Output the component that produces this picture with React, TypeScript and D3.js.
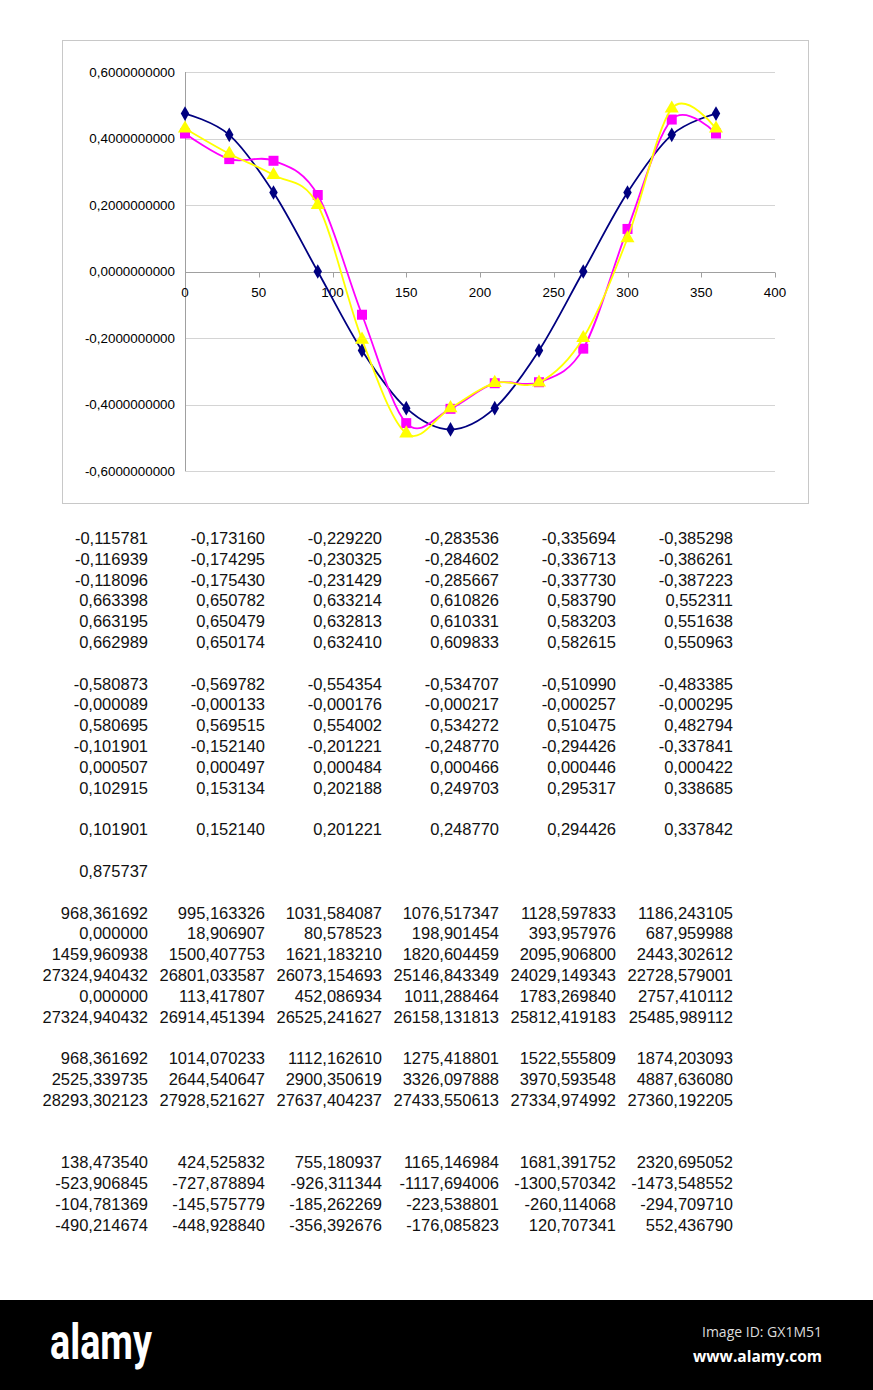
import * as d3 from "d3";
import React, { useEffect, useRef } from "react";

const angles = [0, 30, 60, 90, 120, 150, 180, 210, 240, 270, 300, 330, 360];
const navy = [0.475, 0.411, 0.2375, 0, -0.2375, -0.411, -0.475, -0.411, -0.2375, 0, 0.2375, 0.411, 0.475];
const magenta = [0.415, 0.338, 0.333, 0.23, -0.13, -0.456, -0.413, -0.336, -0.333, -0.232, 0.128, 0.457, 0.415];
const yellow = [0.43, 0.354, 0.29, 0.2, -0.205, -0.487, -0.411, -0.335, -0.334, -0.2, 0.1, 0.49, 0.43];
const yTicks = [-0.6, -0.4, -0.2, 0, 0.2, 0.4, 0.6];
const xTicks = [0, 50, 100, 150, 200, 250, 300, 350, 400];

// table under the chart, blocks of rows with their starting row number
const block1 = [
  [-0.115781, -0.17316, -0.22922, -0.283536, -0.335694, -0.385298],
  [-0.116939, -0.174295, -0.230325, -0.284602, -0.336713, -0.386261],
  [-0.118096, -0.17543, -0.231429, -0.285667, -0.33773, -0.387223],
  [0.663398, 0.650782, 0.633214, 0.610826, 0.58379, 0.552311],
  [0.663195, 0.650479, 0.632813, 0.610331, 0.583203, 0.551638],
  [0.662989, 0.650174, 0.63241, 0.609833, 0.582615, 0.550963],
];
const block2 = [
  [-0.580873, -0.569782, -0.554354, -0.534707, -0.51099, -0.483385],
  [-0.000089, -0.000133, -0.000176, -0.000217, -0.000257, -0.000295],
  [0.580695, 0.569515, 0.554002, 0.534272, 0.510475, 0.482794],
  [-0.101901, -0.15214, -0.201221, -0.24877, -0.294426, -0.337841],
  [0.000507, 0.000497, 0.000484, 0.000466, 0.000446, 0.000422],
  [0.102915, 0.153134, 0.202188, 0.249703, 0.295317, 0.338685],
];
const block3 = [[0.101901, 0.15214, 0.201221, 0.24877, 0.294426, 0.337842]];
const block4 = [[0.875737]];
const block5 = [
  [968.361692, 995.163326, 1031.584087, 1076.517347, 1128.597833, 1186.243105],
  [0, 18.906907, 80.578523, 198.901454, 393.957976, 687.959988],
  [1459.960938, 1500.407753, 1621.18321, 1820.604459, 2095.9068, 2443.302612],
  [27324.940432, 26801.033587, 26073.154693, 25146.843349, 24029.149343, 22728.579001],
  [0, 113.417807, 452.086934, 1011.288464, 1783.26984, 2757.410112],
  [27324.940432, 26914.451394, 26525.241627, 26158.131813, 25812.419183, 25485.989112],
];
const block6 = [
  [968.361692, 1014.070233, 1112.16261, 1275.418801, 1522.555809, 1874.203093],
  [2525.339735, 2644.540647, 2900.350619, 3326.097888, 3970.593548, 4887.63608],
  [28293.302123, 27928.521627, 27637.404237, 27433.550613, 27334.974992, 27360.192205],
];
const block7 = [
  [138.47354, 424.525832, 755.180937, 1165.146984, 1681.391752, 2320.695052],
  [-523.906845, -727.878894, -926.311344, -1117.694006, -1300.570342, -1473.548552],
  [-104.781369, -145.575779, -185.262269, -223.538801, -260.114068, -294.70971],
  [-490.214674, -448.92884, -356.392676, -176.085823, 120.707341, 552.43679],
];
const blocks: [number, number[][]][] = [
  [0, block1],
  [7, block2],
  [14, block3],
  [16, block4],
  [18, block5],
  [25, block6],
  [30, block7],
];

const W = 873;
const H = 1390;

const App = () => {
  const ref = useRef<SVGSVGElement>(null);

  useEffect(() => {
    document.body.style.margin = "0";
    const svg = d3.select(ref.current);
    svg.selectAll("*").remove();

    const x = d3.scaleLinear().domain([0, 400]).range([185, 775]);
    const y = d3.scaleLinear().domain([-0.6, 0.6]).range([471, 72]);

    svg.append("rect").attr("width", W).attr("height", H).attr("fill", "#fff");

    // chart frame
    svg
      .append("rect")
      .attr("x", 62.5)
      .attr("y", 40.5)
      .attr("width", 746)
      .attr("height", 463)
      .attr("fill", "#fff")
      .attr("stroke", "#c8c8c8");

    const g = svg.append("g");

    g.selectAll("line.grid")
      .data(yTicks)
      .enter()
      .append("line")
      .attr("x1", x(0))
      .attr("x2", x(400))
      .attr("y1", (d) => Math.round(y(d)) + 0.5)
      .attr("y2", (d) => Math.round(y(d)) + 0.5)
      .attr("stroke", "#d4d4d4");

    g.selectAll("text.ylab")
      .data(yTicks)
      .enter()
      .append("text")
      .attr("x", 175)
      .attr("y", (d) => y(d))
      .attr("dy", "0.36em")
      .attr("text-anchor", "end")
      .attr("font-family", "Liberation Sans, Arial, sans-serif")
      .attr("font-size", 13.4)
      .attr("fill", "#000")
      .text((d) => d.toFixed(10).replace(".", ","));

    // y axis
    g.append("line")
      .attr("x1", x(0) + 0.5)
      .attr("x2", x(0) + 0.5)
      .attr("y1", y(0.6))
      .attr("y2", y(-0.6))
      .attr("stroke", "#a0a0a0");

    // x axis at zero
    const y0 = Math.round(y(0)) + 0.5;
    g.append("line")
      .attr("x1", x(0))
      .attr("x2", x(400))
      .attr("y1", y0)
      .attr("y2", y0)
      .attr("stroke", "#a0a0a0");
    g.selectAll("line.xtick")
      .data(xTicks)
      .enter()
      .append("line")
      .attr("x1", (d) => Math.round(x(d)) + 0.5)
      .attr("x2", (d) => Math.round(x(d)) + 0.5)
      .attr("y1", y0)
      .attr("y2", y0 + 5)
      .attr("stroke", "#a0a0a0");
    g.selectAll("text.xlab")
      .data(xTicks)
      .enter()
      .append("text")
      .attr("x", (d) => x(d))
      .attr("y", y0 + 24)
      .attr("text-anchor", "middle")
      .attr("font-family", "Liberation Sans, Arial, sans-serif")
      .attr("font-size", 13.4)
      .attr("fill", "#000")
      .text((d) => String(d));

    const line = d3
      .line<number>()
      .x((d, i) => x(angles[i]))
      .y((d) => y(d))
      .curve(d3.curveCatmullRom.alpha(0));

    const series: { values: number[]; color: string; shape: d3.SymbolType; size: number }[] = [
      { values: navy, color: "#000080", shape: d3.symbolDiamond, size: 62 },
      { values: magenta, color: "#ff00ff", shape: d3.symbolSquare, size: 100 },
      { values: yellow, color: "#ffff00", shape: d3.symbolTriangle, size: 85 },
    ];

    series.forEach((s) => {
      g.append("path")
        .datum(s.values)
        .attr("fill", "none")
        .attr("stroke", s.color)
        .attr("stroke-width", 1.8)
        .attr("d", line);
      g.selectAll(null)
        .data(s.values)
        .enter()
        .append("path")
        .attr("transform", (d, i) => `translate(${x(angles[i])},${y(d)})`)
        .attr("d", d3.symbol().type(s.shape).size(s.size)())
        .attr("fill", s.color);
    });

    // table
    const col = d3.scaleLinear().domain([0, 5]).range([148, 733]);
    const row = d3.scaleLinear().domain([0, 33]).range([538, 1225]);
    const fmt = (v: number) => v.toFixed(6).replace(".", ",");
    blocks.forEach(([start, rows]) => {
      rows.forEach((r, ri) => {
        svg
          .append("g")
          .selectAll("text")
          .data(r)
          .enter()
          .append("text")
          .attr("x", (d, ci) => col(ci))
          .attr("y", row(start + ri))
          .attr("dy", "0.36em")
          .attr("text-anchor", "end")
          .attr("font-family", "Liberation Sans, Arial, sans-serif")
          .attr("font-size", 16.5)
          .attr("fill", "#111")
          .text((d) => fmt(d));
      });
    });

    // banner
    svg.append("rect").attr("x", 0).attr("y", 1300).attr("width", W).attr("height", 90).attr("fill", "#000");
    svg
      .append("text")
      .attr("x", 50)
      .attr("y", 1359)
      .attr("font-family", "Roboto, sans-serif")
      .attr("font-weight", "bold")
      .attr("font-size", 50)
      .attr("textLength", 102)
      .attr("lengthAdjust", "spacingAndGlyphs")
      .attr("fill", "#fff")
      .text("alamy");
    svg
      .append("text")
      .attr("x", 822)
      .attr("y", 1337)
      .attr("text-anchor", "end")
      .attr("font-family", "Open Sans, sans-serif")
      .attr("font-size", 14)
      .attr("fill", "#ddd")
      .text("Image ID: GX1M51");
    svg
      .append("text")
      .attr("x", 822)
      .attr("y", 1362)
      .attr("text-anchor", "end")
      .attr("font-family", "Open Sans, sans-serif")
      .attr("font-weight", "bold")
      .attr("font-size", 15.5)
      .attr("fill", "#fff")
      .text("www.alamy.com");
  }, []);

  return <svg ref={ref} width={W} height={H} style={{ display: "block" }} />;
};

export default App;
